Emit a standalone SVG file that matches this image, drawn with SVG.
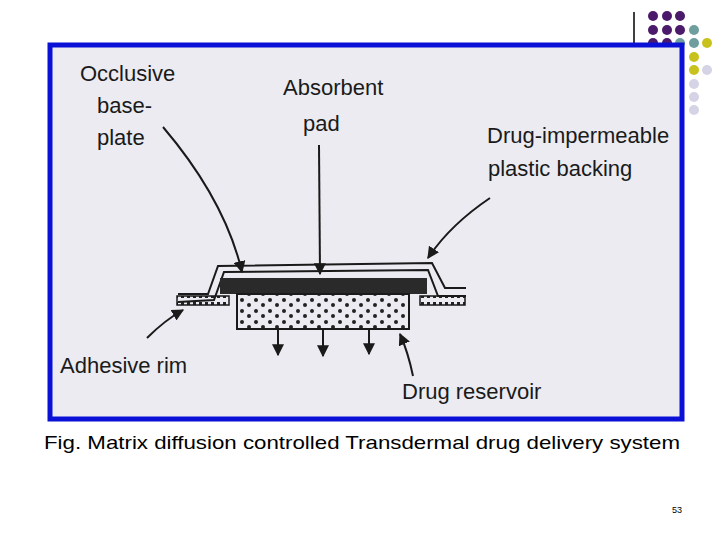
<svg xmlns="http://www.w3.org/2000/svg" width="728" height="546" viewBox="0 0 728 546">
<style>
.lbl{font-family:"Liberation Sans",Arial,sans-serif;font-size:22px;fill:#1a1a1a}
.ln{fill:none;stroke:#1a1a1a;stroke-width:2}
</style>
<defs>
<marker id="ah" viewBox="0 0 10 10" refX="9" refY="5" markerWidth="6" markerHeight="6" orient="auto"><path d="M0,0 L10,5 L0,10 z" fill="#1a1a1a"/></marker>
<pattern id="dots" width="14" height="11" patternUnits="userSpaceOnUse"><circle cx="4" cy="3" r="2" fill="#222"/><circle cx="11" cy="8" r="2" fill="#222"/></pattern>
<pattern id="hatch" width="6" height="10" patternUnits="userSpaceOnUse"><rect x="1" y="2" width="3" height="6" fill="#222"/></pattern>
</defs>
<rect width="728" height="546" fill="#fff"/>
<g id="corner">
<line x1="634" y1="12" x2="634" y2="45" stroke="#000" stroke-width="1.5"/>
<g fill="#4b1a6b"><circle cx="653" cy="16" r="5"/><circle cx="667" cy="16" r="5"/><circle cx="680" cy="16" r="5"/><circle cx="653" cy="30" r="5"/><circle cx="667" cy="30" r="5"/><circle cx="680" cy="30" r="5"/><circle cx="653" cy="43" r="5"/><circle cx="667" cy="43" r="5"/></g>
<g fill="#6e9e9e"><circle cx="694" cy="30" r="5"/><circle cx="680" cy="43" r="5"/><circle cx="694" cy="43" r="5"/></g>
<g fill="#c8c21e"><circle cx="707" cy="43" r="5"/><circle cx="694" cy="57" r="5"/><circle cx="694" cy="70" r="5"/></g>
<g fill="#d4d4e6"><circle cx="707" cy="70" r="5"/><circle cx="694" cy="84" r="5"/><circle cx="694" cy="97" r="5"/><circle cx="694" cy="110" r="5"/></g>
</g>
<rect x="50" y="45" width="632" height="374" fill="#ebebf1" stroke="#0b10d6" stroke-width="5"/>
<g id="device">
<path class="ln" d="M178,294 L208,294 L218,266 L432,263 L445,288 L466,288"/>
<path class="ln" d="M178,302 L214,300 L224,272 L428,270 L438,296 L466,296"/>
<rect x="220" y="278" width="207" height="16" fill="#2a2a2a"/>
<rect x="237" y="294" width="172" height="35" fill="url(#dots)" stroke="#1a1a1a" stroke-width="2"/>
<rect x="177" y="296" width="52" height="9" fill="url(#hatch)" stroke="#1a1a1a" stroke-width="1.5"/>
<rect x="420" y="296" width="45" height="9" fill="url(#hatch)" stroke="#1a1a1a" stroke-width="1.5"/>
</g>
<g id="connectors">
<path class="ln" d="M163,127 Q225,200 242,272" marker-end="url(#ah)"/>
<path class="ln" d="M319,145 L320,274" marker-end="url(#ah)"/>
<path class="ln" d="M490,198 Q450,225 428,258" marker-end="url(#ah)"/>
<path class="ln" d="M147,338 Q165,320 183,310" marker-end="url(#ah)"/>
<path class="ln" d="M413,376 Q408,352 400,334" marker-end="url(#ah)"/>
<path class="ln" d="M278,330 L278,355" marker-end="url(#ah)"/>
<path class="ln" d="M323,330 L323,356" marker-end="url(#ah)"/>
<path class="ln" d="M369,330 L369,354" marker-end="url(#ah)"/>
</g>
<g id="labels">
<text class="lbl" x="80" y="81">Occlusive</text>
<text class="lbl" x="97" y="113">base-</text>
<text class="lbl" x="97" y="145">plate</text>
<text class="lbl" x="283" y="95">Absorbent</text>
<text class="lbl" x="303" y="131">pad</text>
<text class="lbl" x="487" y="143">Drug-impermeable</text>
<text class="lbl" x="488" y="176">plastic backing</text>
<text class="lbl" x="60" y="373">Adhesive rim</text>
<text class="lbl" x="402" y="399">Drug reservoir</text>
</g>
<text x="44" y="449" font-family="Liberation Sans,Arial,sans-serif" font-size="19" fill="#000" textLength="636" lengthAdjust="spacingAndGlyphs">Fig. Matrix diffusion controlled Transdermal drug delivery system</text>
<text x="672" y="513" font-family="Liberation Sans,Arial,sans-serif" font-size="9" fill="#000">53</text>
</svg>
